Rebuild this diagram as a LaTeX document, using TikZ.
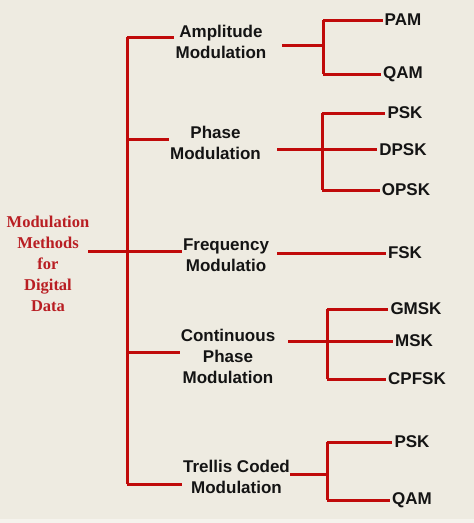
\documentclass[tikz,border=0pt]{standalone}
\usepackage{fontspec}
\setmainfont{Liberation Sans}
\newfontfamily\serifbold{Liberation Serif}
\definecolor{bg}{RGB}{238,235,225}
\definecolor{brred}{RGB}{192,10,10}
\definecolor{titlered}{RGB}{185,30,35}
\definecolor{ink}{RGB}{20,20,20}
\begin{document}
\begin{tikzpicture}[x=1pt,y=-1pt,
  br/.style={draw=brred,line width=3pt},
  mid/.style={align=center,font=\fontsize{17}{21}\selectfont\bfseries,text=ink,inner sep=1pt},
  leaf/.style={font=\fontsize{17}{21}\selectfont\bfseries,text=ink,inner sep=2pt},
  ttl/.style={align=center,font=\serifbold\fontsize{16.5}{21}\selectfont\bfseries,text=titlered,inner sep=1pt}]
\fill[bg] (0,0) rectangle (474,523);
\fill[bg!60!white] (0,519) rectangle (474,523);
% nodes
\node[ttl] (root) at (48,264) {Modulation\\Methods\\for\\Digital\\Data};
\node[mid] (am) at (221,42) {Amplitude\\Modulation};
\node[mid] (pm) at (215.5,143) {Phase\\Modulation};
\node[mid] (fm) at (226,255) {Frequency\\Modulatio};
\node[mid] (cpm) at (228,356) {Continuous\\Phase\\Modulation};
\node[mid] (tcm) at (236.5,477) {Trellis Coded\\Modulation};
\node[leaf] (pam) at (403,20) {PAM};
\node[leaf] (qam1) at (403,74) {QAM};
\node[leaf] (psk1) at (405,113) {PSK};
\node[leaf] (dpsk) at (403,150) {DPSK};
\node[leaf] (opsk) at (406,190) {OPSK};
\node[leaf] (fsk) at (405,253) {FSK};
\node[leaf] (gmsk) at (416,309) {GMSK};
\node[leaf] (msk) at (414,341) {MSK};
\node[leaf] (cpfsk) at (417,379) {CPFSK};
\node[leaf] (psk2) at (412,442) {PSK};
\node[leaf] (qam2) at (412,500) {QAM};
% coordinates
\coordinate (ttop) at (127,37);
\coordinate (tbot) at (127,484);
\coordinate (tam) at (127,37);
\coordinate (tpm) at (127,139);
\coordinate (tfm) at (127,251);
\coordinate (tcp) at (127,352);
\coordinate (ttc) at (127,484);
\coordinate (rootout) at (88,251);
\coordinate (amo) at (282,45);
\coordinate (amj) at (323,45);
\coordinate (pmo) at (277,149);
\coordinate (pmj) at (322,149);
\coordinate (fmo) at (277,253);
\coordinate (cpo) at (288,341);
\coordinate (cpj) at (327,341);
\coordinate (tco) at (290,474);
\coordinate (tcj) at (327,474);
% trunk
\draw[br] (ttop) -- (tbot);
\draw[br] (rootout) -- (tfm);
\draw[br] (tam) -- (am.west |- tam);
\draw[br] (tpm) -- (pm.west |- tpm);
\draw[br] (tfm) -- (fm.west |- tfm);
\draw[br] (tcp) -- (cpm.west |- tcp);
\draw[br] (ttc) -- (tcm.west |- ttc);
% amplitude
\draw[br] (amo) -- (amj);
\draw[br] (amj |- pam) -- (amj |- qam1);
\draw[br] (amj |- pam) -- (pam.west);
\draw[br] (amj |- qam1) -- (qam1.west);
% phase
\draw[br] (pmo) -- (dpsk.west |- pmo);
\draw[br] (pmj |- psk1) -- (pmj |- opsk);
\draw[br] (pmj |- psk1) -- (psk1.west);
\draw[br] (pmj |- opsk) -- (opsk.west);
% frequency
\draw[br] (fmo) -- (fsk.west);
% continuous phase
\draw[br] (cpo) -- (msk.west |- cpo);
\draw[br] (cpj |- gmsk) -- (cpj |- cpfsk);
\draw[br] (cpj |- gmsk) -- (gmsk.west);
\draw[br] (cpj |- cpfsk) -- (cpfsk.west);
% trellis
\draw[br] (tco) -- (tcj);
\draw[br] (tcj |- psk2) -- (tcj |- qam2);
\draw[br] (tcj |- psk2) -- (psk2.west);
\draw[br] (tcj |- qam2) -- (qam2.west);
\end{tikzpicture}
\end{document}
